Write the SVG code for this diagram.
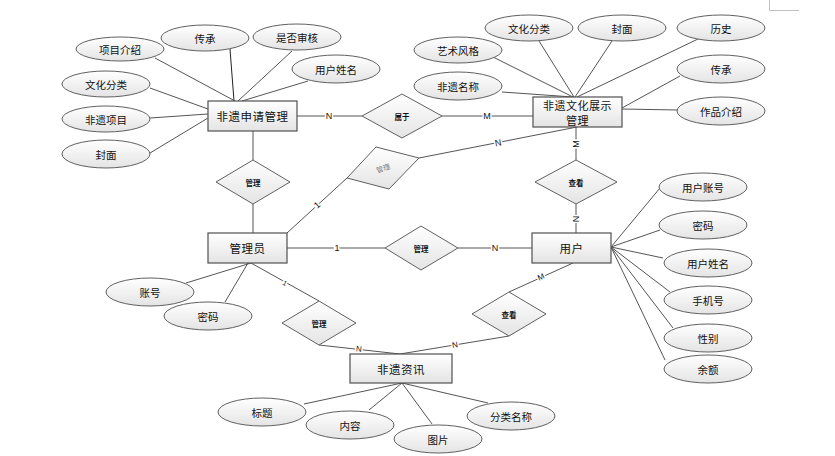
<svg xmlns="http://www.w3.org/2000/svg" width="835" height="456" viewBox="0 0 835 456">
<defs>
<linearGradient id="g" x1="0" y1="0" x2="0" y2="1">
<stop offset="0" stop-color="#ffffff"/>
<stop offset="1" stop-color="#e4e4e4"/>
</linearGradient>
<style>
.e{fill:url(#g);stroke:#606060;stroke-width:1}
.r{fill:url(#g);stroke:#505050;stroke-width:1.2}
.d{fill:url(#g);stroke:#606060;stroke-width:1}
.c line,.c polyline{stroke:#555;stroke-width:1;fill:none}
text{font-family:"Noto Sans CJK SC","Liberation Sans",sans-serif;fill:#111;text-anchor:middle;dominant-baseline:central}
.ta{font-size:10.5px}
.te{font-size:11.5px;letter-spacing:0.5px}
.td{font-size:7.5px;font-weight:bold}
.l{font-family:"Liberation Sans",sans-serif;font-size:9px;paint-order:stroke;stroke:#fff;stroke-width:3px}
</style>
</defs>
<rect width="835" height="456" fill="#fff"/>
<polyline points="769.5,0 769.5,10.5 799,10.5" fill="none" stroke="#c0c0c0" stroke-width="1"/>

<g id="connectors" class="c">
<line x1="155" y1="58" x2="235" y2="101"/>
<line x1="230" y1="49" x2="234" y2="101" style="stroke:#222"/>
<line x1="292" y1="51" x2="238" y2="101"/>
<line x1="308" y1="81" x2="242" y2="101"/>
<line x1="150" y1="88" x2="208" y2="109"/>
<line x1="150" y1="118" x2="208" y2="114"/>
<line x1="150" y1="153" x2="208" y2="118"/>
<line x1="493" y1="57" x2="573" y2="97"/>
<line x1="539" y1="41" x2="574" y2="97"/>
<line x1="612" y1="41" x2="575" y2="97"/>
<line x1="698" y1="39" x2="577" y2="97"/>
<line x1="502" y1="92" x2="573" y2="97"/>
<line x1="680" y1="76" x2="622" y2="108"/>
<line x1="678" y1="110" x2="622" y2="109"/>
<line x1="611" y1="247" x2="660" y2="188"/>
<line x1="611" y1="247" x2="660" y2="230"/>
<line x1="611" y1="247" x2="663" y2="258"/>
<line x1="611" y1="247" x2="670" y2="292"/>
<line x1="611" y1="247" x2="673" y2="328"/>
<line x1="611" y1="247" x2="665" y2="360"/>
<line x1="186" y1="283" x2="251" y2="263"/>
<line x1="225" y1="302" x2="248" y2="263"/>
<line x1="304" y1="404" x2="402" y2="383"/>
<line x1="369" y1="410" x2="402" y2="383"/>
<line x1="432" y1="424" x2="402" y2="383"/>
<line x1="488" y1="403" x2="402" y2="383"/>
<line x1="297" y1="116" x2="362" y2="116"/>
<line x1="442" y1="116" x2="533" y2="116"/>
<line x1="253" y1="131" x2="253" y2="160"/>
<line x1="253" y1="204" x2="253" y2="233"/>
<line x1="287" y1="233" x2="347" y2="178"/>
<line x1="419" y1="158" x2="577" y2="127"/>
<line x1="287" y1="248" x2="385" y2="248"/>
<line x1="458" y1="248" x2="532" y2="248"/>
<line x1="576" y1="127" x2="576" y2="160"/>
<line x1="576" y1="204" x2="576" y2="233"/>
<line x1="251" y1="263" x2="319" y2="301"/>
<polyline points="319,345 400,354 509,336"/>
<line x1="573" y1="263" x2="509" y2="292"/>
</g>

<g id="labels">
<text class="l" x="329" y="116">N</text>
<text class="l" x="487" y="116">M</text>
<text class="l" x="317" y="205" transform="rotate(-42 317 205)">1</text>
<text class="l" x="498" y="143" transform="rotate(-11 498 143)">N</text>
<text class="l" x="337" y="248">1</text>
<text class="l" x="495" y="248">N</text>
<text class="l" x="576" y="144" transform="rotate(-90 576 144)">M</text>
<text class="l" x="576" y="219" transform="rotate(-90 576 219)">N</text>
<text class="l" x="285" y="283" transform="rotate(30 285 283)" style="font-size:7px">1</text>
<text class="l" x="359" y="349" transform="rotate(6 359 349)" style="font-size:8px">N</text>
<text class="l" x="455" y="345" transform="rotate(-9 455 345)" style="font-size:8px">N</text>
<text class="l" x="541" y="277" transform="rotate(-24 541 277)" style="font-size:8px">M</text>
</g>

<g id="n-shenqing"><rect class="r" x="208" y="101" width="89" height="30"/><text class="te" x="252.5" y="116">非遗申请管理</text></g>
<g id="n-zhanshi"><rect class="r" x="533" y="97" width="89" height="30"/><text class="te" x="577.5" y="104.5" style="font-size:11px">非遗文化展示</text><text class="te" x="577.5" y="119.5" style="font-size:11px">管理</text></g>
<g id="n-admin"><rect class="r" x="208" y="233" width="79" height="30"/><text class="te" x="247.5" y="248">管理员</text></g>
<g id="n-user"><rect class="r" x="532" y="233" width="79" height="30"/><text class="te" x="571.5" y="248">用户</text></g>
<g id="n-zixun"><rect class="r" x="350" y="354" width="102" height="29"/><text class="te" x="401" y="368.5">非遗资讯</text></g>

<g id="r-shuyu"><polygon class="d" points="362,116 402,94 442,116 402,138"/><text class="td" x="402" y="116">属于</text></g>
<g id="r-guanli1"><polygon class="d" points="216,182 253,160 290,182 253,204"/><text class="td" x="253" y="182">管理</text></g>
<g id="r-guanli2"><polygon class="d" points="376,147 419,158 389,189 347,178"/><text class="td" x="383" y="168" transform="rotate(-18 383 168)" style="fill:#777;font-weight:normal;font-size:7px">管理</text></g>
<g id="r-guanli3"><polygon class="d" points="385,248 421,226 458,248 421,270"/><text class="td" x="421" y="248">管理</text></g>
<g id="r-chakan1"><polygon class="d" points="535,182 576,160 617,182 576,204"/><text class="td" x="576" y="182">查看</text></g>
<g id="r-guanli4"><polygon class="d" points="282,323 319,301 356,323 319,345"/><text class="td" x="319" y="323">管理</text></g>
<g id="r-chakan2"><polygon class="d" points="472,314 509,292 546,314 509,336"/><text class="td" x="509" y="314">查看</text></g>

<g id="a-xmjs"><ellipse class="e" cx="120" cy="49" rx="44" ry="12"/><text class="ta" x="120" y="49">项目介绍</text></g>
<g id="a-cc1"><ellipse class="e" cx="205" cy="38" rx="44" ry="13"/><text class="ta" x="205" y="38">传承</text></g>
<g id="a-sfsh"><ellipse class="e" cx="297" cy="37" rx="44" ry="13"/><text class="ta" x="297" y="37">是否审核</text></g>
<g id="a-yhxm1"><ellipse class="e" cx="336" cy="69" rx="44" ry="14"/><text class="ta" x="336" y="69">用户姓名</text></g>
<g id="a-whfl1"><ellipse class="e" cx="106" cy="84" rx="44" ry="13"/><text class="ta" x="106" y="84">文化分类</text></g>
<g id="a-fyxm"><ellipse class="e" cx="106" cy="119" rx="44" ry="13"/><text class="ta" x="106" y="119">非遗项目</text></g>
<g id="a-fm1"><ellipse class="e" cx="106" cy="154" rx="44" ry="14"/><text class="ta" x="106" y="154">封面</text></g>

<g id="a-whfl2"><ellipse class="e" cx="529" cy="28" rx="44" ry="13"/><text class="ta" x="529" y="28">文化分类</text></g>
<g id="a-fm2"><ellipse class="e" cx="622" cy="28" rx="44" ry="13"/><text class="ta" x="622" y="28">封面</text></g>
<g id="a-ls"><ellipse class="e" cx="721" cy="28" rx="44" ry="13"/><text class="ta" x="721" y="28">历史</text></g>
<g id="a-ysfg"><ellipse class="e" cx="458" cy="50" rx="44" ry="13"/><text class="ta" x="458" y="50">艺术风格</text></g>
<g id="a-fymc"><ellipse class="e" cx="458" cy="86" rx="44" ry="14"/><text class="ta" x="458" y="86">非遗名称</text></g>
<g id="a-cc2"><ellipse class="e" cx="721" cy="69" rx="44" ry="14"/><text class="ta" x="721" y="69">传承</text></g>
<g id="a-zpjs"><ellipse class="e" cx="721" cy="111" rx="44" ry="14"/><text class="ta" x="721" y="111">作品介绍</text></g>

<g id="a-yhzh"><ellipse class="e" cx="703" cy="187" rx="44" ry="14"/><text class="ta" x="703" y="187">用户账号</text></g>
<g id="a-mm1"><ellipse class="e" cx="703" cy="225" rx="44" ry="14"/><text class="ta" x="703" y="225">密码</text></g>
<g id="a-yhxm2"><ellipse class="e" cx="708" cy="263" rx="44" ry="14"/><text class="ta" x="708" y="263">用户姓名</text></g>
<g id="a-sjh"><ellipse class="e" cx="708" cy="300" rx="44" ry="14"/><text class="ta" x="708" y="300">手机号</text></g>
<g id="a-xb"><ellipse class="e" cx="708" cy="338" rx="44" ry="14"/><text class="ta" x="708" y="338">性别</text></g>
<g id="a-ye"><ellipse class="e" cx="708" cy="369" rx="44" ry="14"/><text class="ta" x="708" y="369">余额</text></g>

<g id="a-zh"><ellipse class="e" cx="150" cy="292" rx="44" ry="14"/><text class="ta" x="150" y="292">账号</text></g>
<g id="a-mm2"><ellipse class="e" cx="208" cy="316" rx="44" ry="14"/><text class="ta" x="208" y="316">密码</text></g>
<g id="a-bt"><ellipse class="e" cx="262" cy="412" rx="44" ry="14"/><text class="ta" x="262" y="412">标题</text></g>
<g id="a-nr"><ellipse class="e" cx="350" cy="425" rx="44" ry="14"/><text class="ta" x="350" y="425">内容</text></g>
<g id="a-tp"><ellipse class="e" cx="438" cy="439" rx="44" ry="14"/><text class="ta" x="438" y="439">图片</text></g>
<g id="a-flmc"><ellipse class="e" cx="511" cy="416" rx="44" ry="14"/><text class="ta" x="511" y="416">分类名称</text></g>
</svg>
